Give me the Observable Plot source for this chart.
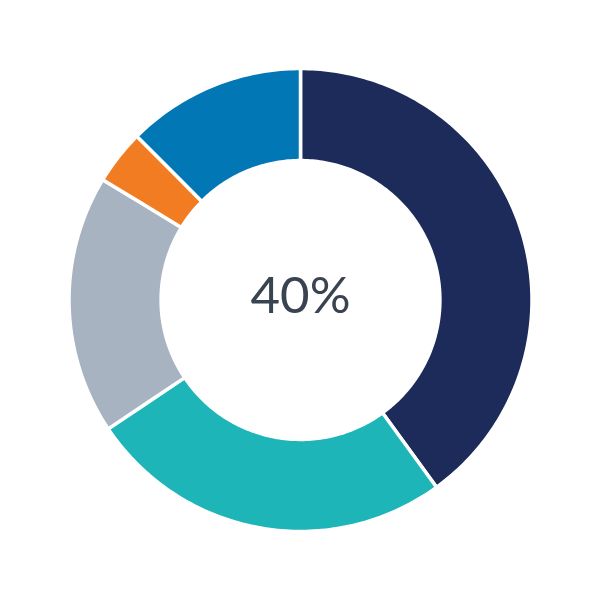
<!DOCTYPE html>
<html>
<head>
<meta charset="utf-8">
<script src="https://cdn.jsdelivr.net/npm/d3@7"></script>
<script src="https://cdn.jsdelivr.net/npm/@observablehq/plot@0.6"></script>
<style>
  html, body { margin: 0; padding: 0; background: #ffffff; }
  #chart svg { display: block; }
</style>
</head>
<body>
<div id="chart"></div>
<script>
// Data
const categories = ["A", "B", "C", "D", "E"];
const values = [40, 25.6, 18.1, 3.8, 12.5];
const colors = ["#1c2b5a", "#1db5b8", "#a8b3c2", "#f27c21", "#0277b6"];
const centerLabel = "40%";

// Ring geometry in polar terms (projected via azimuthal-equidistant centered on the pole)
const outerLat = 0;      // outer edge
const innerLat = 35.8;   // inner edge (ratio ~0.60)

const total = d3.sum(values);
let acc = 0;
const features = categories.map((name, i) => {
  const t0 = acc / total * 360;
  acc += values[i];
  const t1 = acc / total * 360;
  const steps = Math.max(2, Math.ceil(t1 - t0));
  const outer = d3.range(steps + 1).map(k => t0 + (t1 - t0) * k / steps);
  const ring = [];
  for (const t of outer) ring.push([180 - t, outerLat]);
  for (const t of outer.slice().reverse()) ring.push([180 - t, innerLat]);
  ring.push(ring[0]);
  let f = {type: "Feature", properties: {name}, geometry: {type: "Polygon", coordinates: [ring]}};
  if (d3.geoArea(f) > 2 * Math.PI) {
    f.geometry.coordinates = [ring.slice().reverse()];
  }
  return f;
});

const chart = Plot.plot({
  width: 600,
  height: 599,
  margin: 0,
  inset: 68,
  style: {background: "#ffffff"},
  projection: {
    type: "azimuthal-equidistant",
    rotate: [0, -90],
    domain: d3.geoCircle().center([0, 90]).radius(90 - outerLat)()
  },
  color: {domain: categories, range: colors},
  marks: [
    Plot.geo(features, {fill: d => d.properties.name, stroke: "#ffffff", strokeWidth: 3.5}),
    Plot.text([{lon: 0, lat: 90, label: centerLabel}], {
      x: "lon", y: "lat", text: "label",
      fontSize: 51, fill: "#3a4350", fontFamily: "Lato", fontWeight: 400, dy: -3
    })
  ]
});
document.getElementById("chart").appendChild(chart);
</script>
</body>
</html>
